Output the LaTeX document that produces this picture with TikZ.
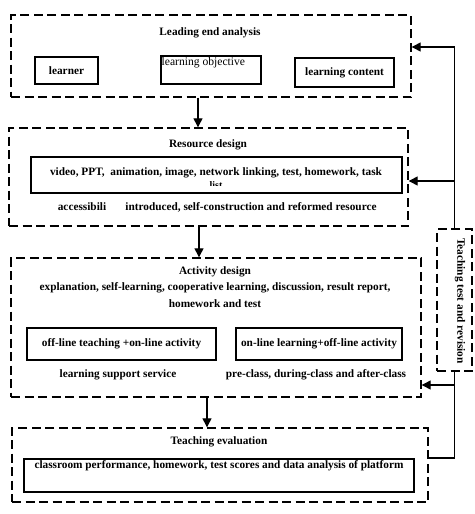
\documentclass[tikz,border=0pt]{standalone}
\usepackage{fontspec}
\setmainfont{Liberation Serif}
\usetikzlibrary{arrows.meta,calc}
\begin{document}
\begin{tikzpicture}[x=1pt,y=-1pt,
  outerbox/.style={draw,line width=1.4pt,dash pattern=on 9pt off 4.5pt,minimum width=#1},
  innerbox/.style={draw,line width=1.1pt},
  txt/.style={font=\fontsize{11.3}{13}\selectfont\bfseries,inner sep=0pt},
  arr/.style={line width=1.3pt,-{Triangle[length=9pt,width=9pt]}},
  fb/.style={line width=1.3pt}]
\useasboundingbox (0,0) rectangle (474,514);
% box 1
\node[outerbox=400pt,minimum height=82pt] (o1) at (211,56) {};
\node[txt] (t1) at (210,33) {Leading end analysis};
\node[innerbox,minimum width=63pt,minimum height=27pt,txt] (learner) at (66.5,70.5) {learner};
\node[innerbox,minimum width=100pt,minimum height=28pt] (obj) at (211,70) {};
\node[anchor=north west,inner sep=0pt,font=\fontsize{11.6}{13}\selectfont] (objt) at ([xshift=1pt,yshift=-2pt]obj.north west) {learning objective};
\node[innerbox,minimum width=99pt,minimum height=29pt,txt] (content) at (344.5,72.5) {learning content};
% box 2
\node[outerbox=399pt,minimum height=98pt] (o2) at (208.5,177) {};
\node[txt] (t2) at (208,145) {Resource design};
\node[innerbox,minimum width=371pt,minimum height=36pt] (i2) at (216.5,175) {};
\node[txt] (i2t) at (216,173) {video, PPT,\ \ animation, image, network linking, test, homework, task};
\begin{scope}
\clip (100,150) rectangle (300,185.5);
\node[txt,font=\fontsize{10}{11}\selectfont\bfseries] (i2l) at (216,185) {list};
\end{scope}
\node[txt] (acc) at (82,207) {accessibili};
\node[txt] (intro) at (251,207) {introduced, self-construction and reformed resource};
% box 3
\node[outerbox=410pt,minimum height=139pt] (o3) at (216,327.5) {};
\node[txt] (t3) at (215,272) {Activity design};
\node[txt] (l31) at (215,288) {explanation, self-learning, cooperative learning, discussion, result report,};
\node[txt] (l32) at (215,304) {homework and test};
\node[innerbox,minimum width=189pt,minimum height=32pt,txt] (left) at (121.5,344) {off-line teaching +on-line activity};
\node[innerbox,minimum width=166pt,minimum height=32pt,txt] (right) at (319,344) {on-line learning+off-line activity};
\node[txt] (lss) at (118,375) {learning support service};
\node[txt] (pre) at (316,375) {pre-class, during-class and after-class};
% box 4
\node[outerbox=416pt,minimum height=74pt] (o4) at (220,465) {};
\node[txt] (t4) at (219,442) {Teaching evaluation};
\node[innerbox,minimum width=390pt,minimum height=33pt] (i4) at (219,475.5) {};
\node[txt] (i4t) at (219,466) {classroom performance, homework, test scores and data analysis of platform};
% test and revision
\node[outerbox=35pt,minimum height=142pt] (test) at (454.5,300) {};
\node[txt,rotate=-90] (testt) at (460,301) {Teaching test and revision};
% main arrows
\draw[arr] ([xshift=-13pt]o1.south) -- ([xshift=-13pt]o1.south |- o2.north);
\draw[arr] ([xshift=-9.5pt]o2.south) -- ([xshift=-9.5pt]o2.south |- o3.north);
\draw[arr] ([xshift=-9pt]o3.south) -- ([xshift=-9pt]o3.south |- o4.north);
% feedback
\coordinate (j1) at (454.5,47);
\coordinate (j2) at (454.5,181);
\coordinate (j3) at (454.5,385);
\draw[fb] ([yshift=7pt]o4.east) -| (test.south);
\draw[fb] (test.north) -- (j1);
\draw[arr] (j1) -- (j1 -| o1.east);
\draw[arr] (j2) -- (j2 -| o2.east);
\draw[arr] (j3) -- (j3 -| o3.east);
\end{tikzpicture}
\end{document}
